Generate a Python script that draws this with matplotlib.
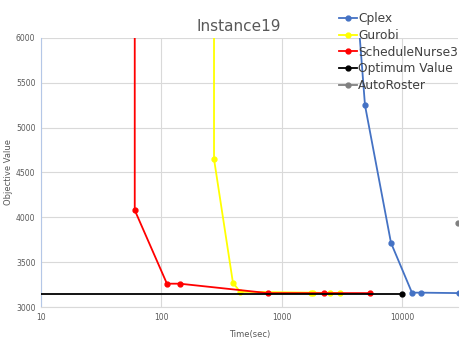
import matplotlib
matplotlib.use("Agg")
import matplotlib.pyplot as plt
from matplotlib.ticker import FixedLocator, NullLocator

# Series data (time in seconds, objective value)
cplex_t = [3880, 4890, 8040, 12000, 14250, 29500]
cplex_v = [7000, 5250, 3715, 3160, 3160, 3155]

gurobi_t = [273, 273, 392, 450, 1750, 1800, 2500, 3030]
gurobi_v = [20000, 4650, 3270, 3170, 3160, 3160, 3155, 3155]

sn3_t = [60, 60, 111, 142, 766, 2230, 5370]
sn3_v = [20000, 4080, 3260, 3260, 3155, 3155, 3155]

opt_t = [10, 10000]
opt_v = [3150, 3150]

auto_t = [28800]
auto_v = [3935]

x_ticks = [10, 100, 1000, 10000]
y_ticks = [3000, 3500, 4000, 4500, 5000, 5500, 6000]

fig = plt.figure(figsize=(4.74, 3.38), dpi=100)
ax = fig.add_axes([0.0865, 0.0917, 0.88, 0.796])

ax.plot(cplex_t, cplex_v, color="#4472C4", lw=1.3, marker="o", ms=3.5, label="Cplex", zorder=3)
ax.plot(gurobi_t, gurobi_v, color="#FFFF00", lw=1.3, marker="o", ms=3.5, label="Gurobi", zorder=3)
ax.plot(sn3_t, sn3_v, color="#FF0000", lw=1.3, marker="o", ms=3.5, label="ScheduleNurse3", zorder=4)
ax.plot(opt_t, opt_v, color="#000000", lw=1.3, marker="o", ms=3.5, markevery=[1],
        label="Optimum Value", zorder=5)
ax.plot(auto_t, auto_v, color="#808080", lw=1.3, marker="o", ms=3.5, label="AutoRoster", zorder=5)

ax.set_xscale("log")
ax.set_xlim(10, 29000)
ax.set_ylim(3000, 6000)
ax.xaxis.set_major_locator(FixedLocator(x_ticks))
ax.xaxis.set_minor_locator(NullLocator())
ax.set_xticklabels([str(t) for t in x_ticks])
ax.set_yticks(y_ticks)
ax.tick_params(labelsize=5.5, colors="#595959", length=0, pad=4)
ax.grid(True, color="#D9D9D9", lw=0.8)
ax.set_axisbelow(True)

for side in ["top", "right"]:
    ax.spines[side].set_visible(False)
ax.spines["left"].set_color("#B4C7E7")
ax.spines["bottom"].set_color("#D9D9D9")

ax.set_xlabel("Time(sec)", fontsize=6, color="#595959", labelpad=6)
ax.set_ylabel("Objective Value", fontsize=6, color="#595959", labelpad=2)
ax.set_title("Instance19", fontsize=11, color="#595959", x=0.475, pad=5)

leg = fig.legend(loc="upper left", bbox_to_anchor=(0.704, 0.978), frameon=False,
                 fontsize=8.8, labelcolor="#404040", handlelength=1.5,
                 handletextpad=0.1, labelspacing=0.3, borderaxespad=0)

fig.savefig("out.png", dpi=100)
